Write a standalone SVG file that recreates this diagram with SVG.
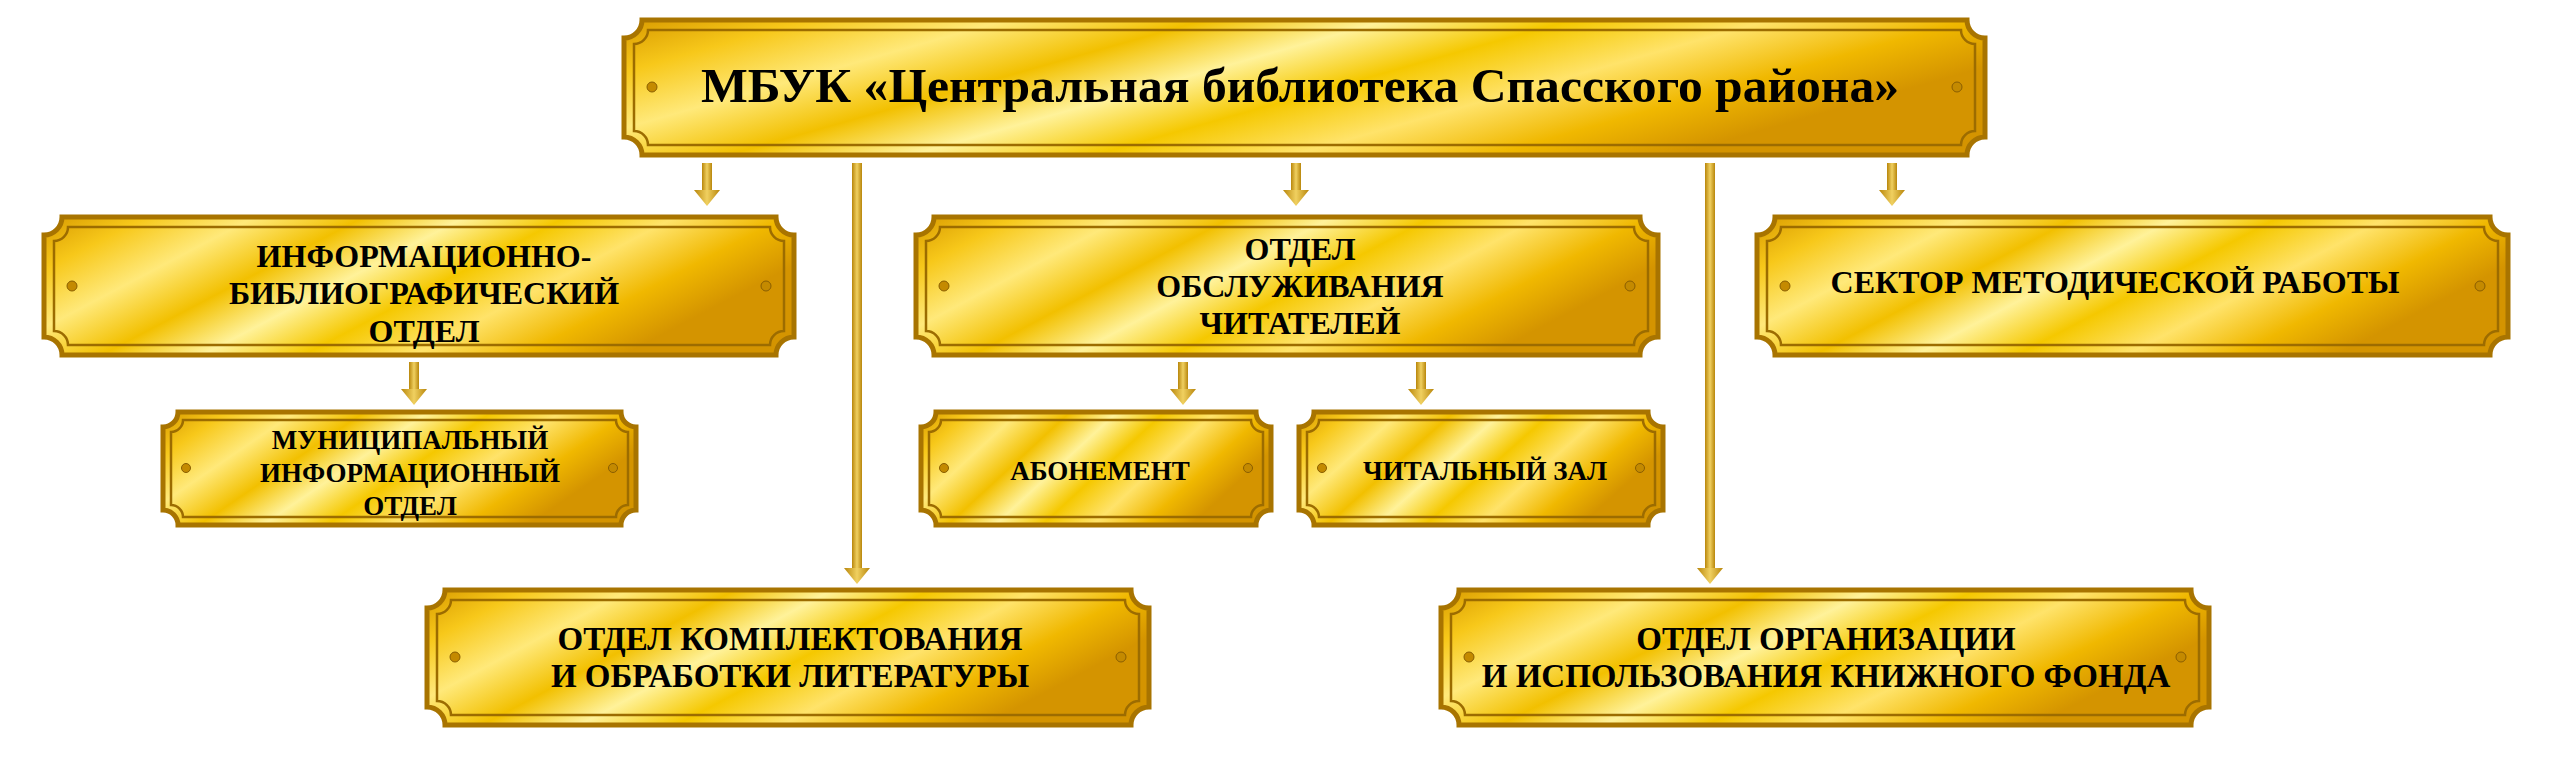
<svg xmlns="http://www.w3.org/2000/svg" width="2555" height="771" viewBox="0 0 2555 771">
<defs>
<linearGradient id="gold" x1="0" y1="0" x2="1" y2="0.35">
<stop offset="0" stop-color="#d89a00"/>
<stop offset="0.12" stop-color="#f7c81a"/>
<stop offset="0.25" stop-color="#ffe97a"/>
<stop offset="0.38" stop-color="#f2c000"/>
<stop offset="0.5" stop-color="#fff29a"/>
<stop offset="0.62" stop-color="#f5c800"/>
<stop offset="0.75" stop-color="#ffe36a"/>
<stop offset="0.88" stop-color="#f0b800"/>
<stop offset="1" stop-color="#d49400"/>
</linearGradient>
<linearGradient id="arr" x1="0" y1="0" x2="1" y2="0">
<stop offset="0" stop-color="#b8860b"/>
<stop offset="0.5" stop-color="#f0d060"/>
<stop offset="1" stop-color="#b8860b"/>
</linearGradient>
</defs>
<style>
.o{fill:url(#gold);stroke:#a87400;stroke-width:5}
.i{fill:none;stroke:#9c6c00;stroke-width:2.5}
.s{fill:#c48a00;stroke:#8a5e00;stroke-width:1}
.t{font-family:"Liberation Serif","Times New Roman",serif;font-weight:bold;fill:#000;text-anchor:middle}
.a{fill:url(#arr)}
</style>
<g id="connectors">
<rect class="a" x="702" y="163" width="10" height="29"/><polygon class="a" points="694,190 720,190 707,206"/>
<rect class="a" x="1291" y="163" width="10" height="29"/><polygon class="a" points="1283,190 1309,190 1296,206"/>
<rect class="a" x="1887" y="163" width="10" height="29"/><polygon class="a" points="1879,190 1905,190 1892,206"/>
<rect class="a" x="852" y="163" width="10" height="407"/><polygon class="a" points="844,568 870,568 857,584"/>
<rect class="a" x="1705" y="163" width="10" height="407"/><polygon class="a" points="1697,568 1723,568 1710,584"/>
<rect class="a" x="409" y="362" width="10" height="29"/><polygon class="a" points="401,389 427,389 414,405"/>
<rect class="a" x="1178" y="362" width="10" height="29"/><polygon class="a" points="1170,389 1196,389 1183,405"/>
<rect class="a" x="1416" y="362" width="10" height="29"/><polygon class="a" points="1408,389 1434,389 1421,405"/>
</g>
<g id="top">
<path class="o" d="M642,20 H1967 A18 18 0 0 0 1985,38 V137 A18 18 0 0 0 1967,155 H642 A18 18 0 0 0 624,137 V38 A18 18 0 0 0 642,20 Z"/>
<path class="i" d="M648,30 H1961 A14 14 0 0 0 1975,44 V131 A14 14 0 0 0 1961,145 H648 A14 14 0 0 0 634,131 V44 A14 14 0 0 0 648,30 Z"/>
<circle class="s" cx="652" cy="87" r="5"/><circle class="s" cx="1957" cy="87" r="5"/>
<text class="t" x="1300" y="102" font-size="48" textLength="1198" lengthAdjust="spacingAndGlyphs">МБУК «Центральная библиотека Спасского района»</text>
</g>
<g id="ib">
<path class="o" d="M62,217 H776 A18 18 0 0 0 794,235 V337 A18 18 0 0 0 776,355 H62 A18 18 0 0 0 44,337 V235 A18 18 0 0 0 62,217 Z"/>
<path class="i" d="M68,227 H770 A14 14 0 0 0 784,241 V331 A14 14 0 0 0 770,345 H68 A14 14 0 0 0 54,331 V241 A14 14 0 0 0 68,227 Z"/>
<circle class="s" cx="72" cy="286" r="5"/><circle class="s" cx="766" cy="286" r="5"/>
<text class="t" font-size="32"><tspan x="424" y="267">ИНФОРМАЦИОННО-</tspan><tspan x="424" y="304">БИБЛИОГРАФИЧЕСКИЙ</tspan><tspan x="424" y="342">ОТДЕЛ</tspan></text>
</g>
<g id="oo">
<path class="o" d="M934,217 H1640 A18 18 0 0 0 1658,235 V337 A18 18 0 0 0 1640,355 H934 A18 18 0 0 0 916,337 V235 A18 18 0 0 0 934,217 Z"/>
<path class="i" d="M940,227 H1634 A14 14 0 0 0 1648,241 V331 A14 14 0 0 0 1634,345 H940 A14 14 0 0 0 926,331 V241 A14 14 0 0 0 940,227 Z"/>
<circle class="s" cx="944" cy="286" r="5"/><circle class="s" cx="1630" cy="286" r="5"/>
<text class="t" font-size="32"><tspan x="1300" y="260">ОТДЕЛ</tspan><tspan x="1300" y="297">ОБСЛУЖИВАНИЯ</tspan><tspan x="1300" y="334">ЧИТАТЕЛЕЙ</tspan></text>
</g>
<g id="smr">
<path class="o" d="M1775,217 H2490 A18 18 0 0 0 2508,235 V337 A18 18 0 0 0 2490,355 H1775 A18 18 0 0 0 1757,337 V235 A18 18 0 0 0 1775,217 Z"/>
<path class="i" d="M1781,227 H2484 A14 14 0 0 0 2498,241 V331 A14 14 0 0 0 2484,345 H1781 A14 14 0 0 0 1767,331 V241 A14 14 0 0 0 1781,227 Z"/>
<circle class="s" cx="1785" cy="286" r="5"/><circle class="s" cx="2480" cy="286" r="5"/>
<text class="t" x="2115" y="293" font-size="32">СЕКТОР МЕТОДИЧЕСКОЙ РАБОТЫ</text>
</g>
<g id="mio">
<path class="o" d="M178,412 H621 A15 15 0 0 0 636,427 V510 A15 15 0 0 0 621,525 H178 A15 15 0 0 0 163,510 V427 A15 15 0 0 0 178,412 Z"/>
<path class="i" d="M183,420 H616 A12 12 0 0 0 628,432 V505 A12 12 0 0 0 616,517 H183 A12 12 0 0 0 171,505 V432 A12 12 0 0 0 183,420 Z"/>
<circle class="s" cx="186" cy="468" r="4.5"/><circle class="s" cx="613" cy="468" r="4.5"/>
<text class="t" font-size="27"><tspan x="410" y="449">МУНИЦИПАЛЬНЫЙ</tspan><tspan x="410" y="482">ИНФОРМАЦИОННЫЙ</tspan><tspan x="410" y="515">ОТДЕЛ</tspan></text>
</g>
<g id="ab">
<path class="o" d="M936,412 H1256 A15 15 0 0 0 1271,427 V510 A15 15 0 0 0 1256,525 H936 A15 15 0 0 0 921,510 V427 A15 15 0 0 0 936,412 Z"/>
<path class="i" d="M941,420 H1251 A12 12 0 0 0 1263,432 V505 A12 12 0 0 0 1251,517 H941 A12 12 0 0 0 929,505 V432 A12 12 0 0 0 941,420 Z"/>
<circle class="s" cx="944" cy="468" r="4.5"/><circle class="s" cx="1248" cy="468" r="4.5"/>
<text class="t" x="1100" y="480" font-size="27">АБОНЕМЕНТ</text>
</g>
<g id="cz">
<path class="o" d="M1314,412 H1648 A15 15 0 0 0 1663,427 V510 A15 15 0 0 0 1648,525 H1314 A15 15 0 0 0 1299,510 V427 A15 15 0 0 0 1314,412 Z"/>
<path class="i" d="M1319,420 H1643 A12 12 0 0 0 1655,432 V505 A12 12 0 0 0 1643,517 H1319 A12 12 0 0 0 1307,505 V432 A12 12 0 0 0 1319,420 Z"/>
<circle class="s" cx="1322" cy="468" r="4.5"/><circle class="s" cx="1640" cy="468" r="4.5"/>
<text class="t" x="1485" y="480" font-size="27">ЧИТАЛЬНЫЙ ЗАЛ</text>
</g>
<g id="okol">
<path class="o" d="M445,590 H1131 A18 18 0 0 0 1149,608 V707 A18 18 0 0 0 1131,725 H445 A18 18 0 0 0 427,707 V608 A18 18 0 0 0 445,590 Z"/>
<path class="i" d="M451,600 H1125 A14 14 0 0 0 1139,614 V701 A14 14 0 0 0 1125,715 H451 A14 14 0 0 0 437,701 V614 A14 14 0 0 0 451,600 Z"/>
<circle class="s" cx="455" cy="657" r="5"/><circle class="s" cx="1121" cy="657" r="5"/>
<text class="t" font-size="33"><tspan x="790" y="650">ОТДЕЛ КОМПЛЕКТОВАНИЯ</tspan><tspan x="790" y="687">И ОБРАБОТКИ ЛИТЕРАТУРЫ</tspan></text>
</g>
<g id="ooikf">
<path class="o" d="M1459,590 H2191 A18 18 0 0 0 2209,608 V707 A18 18 0 0 0 2191,725 H1459 A18 18 0 0 0 1441,707 V608 A18 18 0 0 0 1459,590 Z"/>
<path class="i" d="M1465,600 H2185 A14 14 0 0 0 2199,614 V701 A14 14 0 0 0 2185,715 H1465 A14 14 0 0 0 1451,701 V614 A14 14 0 0 0 1465,600 Z"/>
<circle class="s" cx="1469" cy="657" r="5"/><circle class="s" cx="2181" cy="657" r="5"/>
<text class="t" font-size="33"><tspan x="1826" y="650">ОТДЕЛ ОРГАНИЗАЦИИ</tspan><tspan x="1826" y="687">И ИСПОЛЬЗОВАНИЯ КНИЖНОГО ФОНДА</tspan></text>
</g>
</svg>
